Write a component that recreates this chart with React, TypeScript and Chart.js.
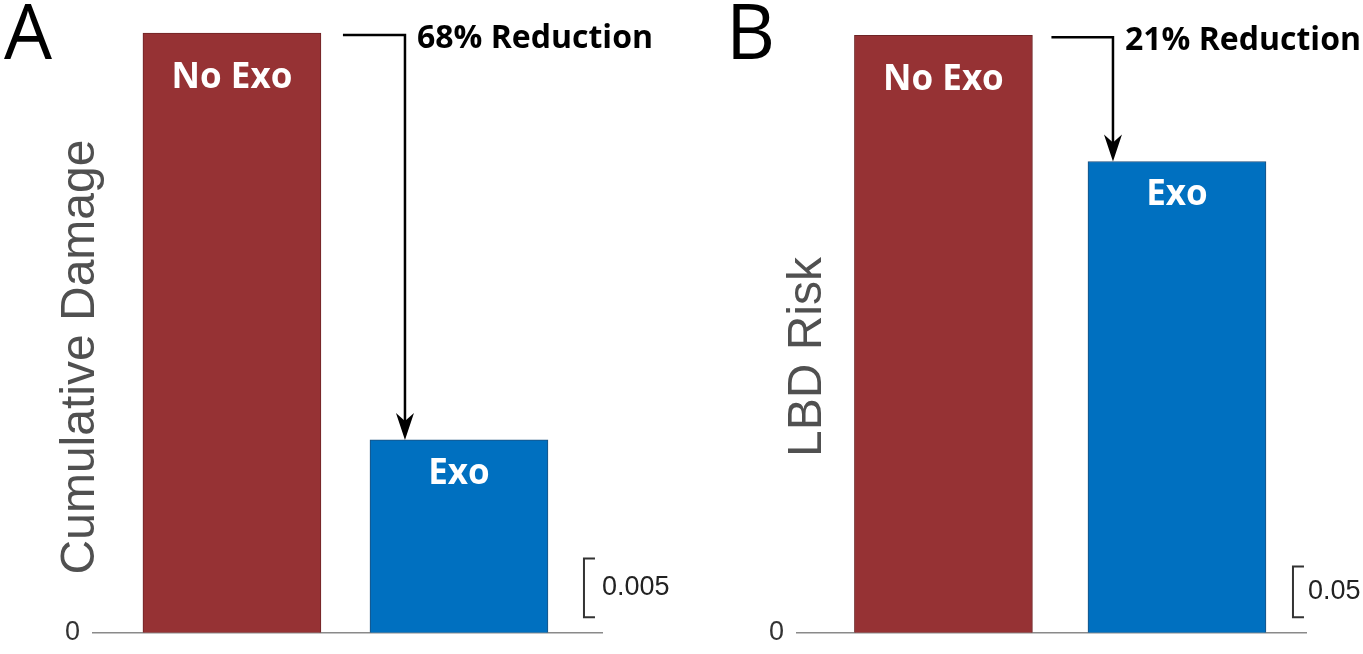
import { useEffect, useRef } from 'react'
import { Chart, registerables } from 'chart.js'

Chart.register(...registerables)

// Data (scale bars give the units)
const categories = ['No Exo', 'Exo']
const damageValues = [0.051, 0.0164]
const lbdRiskValues = [0.587, 0.463]
const damageScaleBar = 0.005
const lbdRiskScaleBar = 0.05
const zeroTick = [0]

const barColors = ['#963234', '#0070c0']
const barBorders = ['#6e2426', '#1d4f7c']

const reductionText = (values: number[]) =>
  `${Math.round((1 - values[1] / values[0]) * 100)}% Reduction`

// Draws the panel letter, axis title, bar labels, arrow and scale bar
const panelNotes = {
  id: 'panelNotes',
  afterDatasetsDraw(chart: any, _args: any, opts: any) {
    const { ctx } = chart
    const bars = chart.getDatasetMeta(0).data as any[]
    const [noExo, exo] = bars
    const y = chart.scales.y

    ctx.save()

    // panel letter
    ctx.fillStyle = '#000'
    ctx.font = '400 76px "Open Sans"'
    ctx.textAlign = 'left'
    ctx.textBaseline = 'alphabetic'
    ctx.fillText(opts.letter, opts.letterX, 59)

    // y axis title
    ctx.save()
    ctx.translate(opts.titleX, opts.titleY)
    ctx.rotate(-Math.PI / 2)
    ctx.fillStyle = '#505050'
    ctx.font = '400 48px "Liberation Sans"'
    ctx.textAlign = 'center'
    ctx.fillText(opts.title, 0, 0)
    ctx.restore()

    // labels inside the bars
    ctx.fillStyle = '#fff'
    ctx.font = '700 35px "Open Sans"'
    ctx.textAlign = 'center'
    const labelOffsets = [55, 44]
    bars.forEach((bar, i) => {
      ctx.fillText(categories[i], bar.x, bar.y + labelOffsets[i])
    })

    // arrow from No Exo level down to Exo level
    const startX = noExo.x + noExo.width / 2 + opts.arrowGap
    const lineY = noExo.y + 2
    const ax = exo.x - exo.width / 2 + opts.arrowInset
    const tipY = exo.y
    ctx.strokeStyle = '#000'
    ctx.fillStyle = '#000'
    ctx.lineWidth = 2.5
    ctx.beginPath()
    ctx.moveTo(startX, lineY)
    ctx.lineTo(ax, lineY)
    ctx.lineTo(ax, tipY - 18)
    ctx.stroke()
    ctx.beginPath()
    ctx.moveTo(ax, tipY)
    ctx.lineTo(ax - 9, tipY - 27)
    ctx.lineTo(ax, tipY - 19)
    ctx.lineTo(ax + 9, tipY - 27)
    ctx.closePath()
    ctx.fill()

    ctx.font = '700 32px "Open Sans"'
    ctx.textAlign = 'left'
    ctx.fillText(opts.reduction, ax + 12, lineY + 13)

    // scale bar
    const base = y.getPixelForValue(0)
    const h = base - y.getPixelForValue(opts.scaleValue)
    const bx = exo.x + exo.width / 2 + opts.scaleGap
    const bottom = base - 15.5
    const top = bottom - h
    ctx.strokeStyle = '#333'
    ctx.lineWidth = 2
    ctx.beginPath()
    ctx.moveTo(bx + 11, top)
    ctx.lineTo(bx, top)
    ctx.lineTo(bx, bottom)
    ctx.lineTo(bx + 11, bottom)
    ctx.stroke()
    ctx.fillStyle = '#222'
    ctx.font = '400 27px "Liberation Sans"'
    ctx.textBaseline = 'middle'
    ctx.fillText(String(opts.scaleValue), bx + opts.scaleTextGap, (top + bottom) / 2)

    ctx.restore()
  },
}

type PanelProps = {
  values: number[]
  yMax: number
  xMin: number
  xMax: number
  yWidth: number
  padTop: number
  padRight: number
  notes: Record<string, any>
}

const Panel = ({ values, yMax, xMin, xMax, yWidth, padTop, padRight, notes }: PanelProps) => {
  const canvasRef = useRef<HTMLCanvasElement | null>(null)

  useEffect(() => {
    if (!canvasRef.current) return
    const chart = new Chart(canvasRef.current, {
      type: 'bar',
      data: {
        datasets: [
          {
            data: categories.map((_, i) => ({ x: i, y: values[i] })),
            backgroundColor: barColors,
            borderColor: barBorders,
            borderWidth: 1,
            barThickness: 178,
          },
        ],
      },
      options: {
        responsive: true,
        maintainAspectRatio: false,
        animation: false,
        layout: { padding: { top: padTop, right: padRight, bottom: 20, left: 0 } },
        plugins: {
          legend: { display: false },
          tooltip: { enabled: false },
          panelNotes: notes,
        } as any,
        scales: {
          x: {
            type: 'linear',
            offset: false,
            min: xMin,
            max: xMax,
            grid: { display: false },
            ticks: { display: false },
            border: { color: '#8a8a8a', width: 1.5 },
            afterFit: (s: any) => {
              s.height = 0
            },
          },
          y: {
            min: 0,
            max: yMax,
            grid: { display: false },
            border: { display: false },
            ticks: {
              padding: 5,
              color: '#333',
              font: { family: 'Liberation Sans', size: 27 },
            },
            afterBuildTicks: (s: any) => {
              s.ticks = zeroTick.map((v) => ({ value: v }))
            },
            afterFit: (s: any) => {
              s.width = yWidth
            },
          },
        },
      },
      plugins: [panelNotes],
    })
    return () => chart.destroy()
  }, [])

  return <canvas ref={canvasRef} />
}

export default function App() {
  return (
    <div style={{ position: 'fixed', left: 0, top: 0, width: 1363, height: 654, background: '#fff' }}>
      <div style={{ position: 'absolute', left: 0, top: 0, width: 690, height: 654 }}>
        <Panel
          values={damageValues}
          yMax={0.052}
          xMin={-0.612}
          xMax={1.63}
          yWidth={93}
          padTop={20}
          padRight={88}
          notes={{
            letter: 'A',
            letterX: 4,
            title: 'Cumulative Damage',
            titleX: 94,
            titleY: 357,
            reduction: reductionText(damageValues),
            arrowGap: 22,
            arrowInset: 35,
            scaleValue: damageScaleBar,
            scaleGap: 36,
            scaleTextGap: 18,
          }}
        />
      </div>
      <div style={{ position: 'absolute', left: 700, top: 0, width: 663, height: 654 }}>
        <Panel
          values={lbdRiskValues}
          yMax={0.6}
          xMin={-0.627}
          xMax={1.5525}
          yWidth={97}
          padTop={22}
          padRight={57}
          notes={{
            letter: 'B',
            letterX: 26,
            title: 'LBD Risk',
            titleX: 121,
            titleY: 357,
            reduction: reductionText(lbdRiskValues),
            arrowGap: 19,
            arrowInset: 25,
            scaleValue: lbdRiskScaleBar,
            scaleGap: 27,
            scaleTextGap: 15,
          }}
        />
      </div>
    </div>
  )
}
